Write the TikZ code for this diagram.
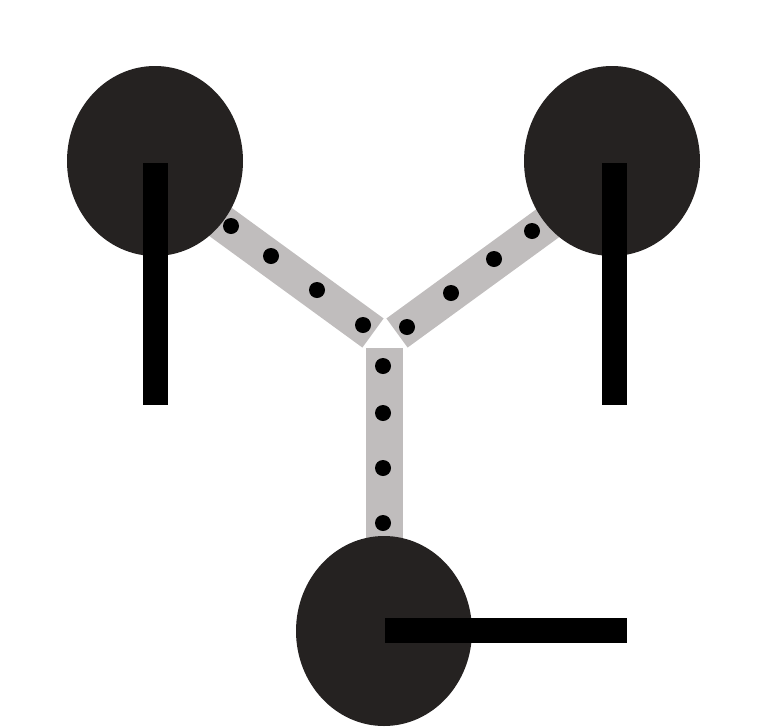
\documentclass[tikz,border=0pt]{standalone}
\usetikzlibrary{shapes.geometric}
\definecolor{stripgray}{RGB}{192,189,189}
\definecolor{discdark}{RGB}{37,34,33}
\tikzset{
  strip/.style={draw=stripgray, line width=36pt, line cap=butt},
  disc/.style={ellipse, fill=discdark, minimum width=176pt, minimum height=190pt, inner sep=0pt},
  bar/.style={draw=black, line width=25pt, line cap=butt},
  bead/.style={circle, fill=black, minimum size=16pt, inner sep=0pt}
}
\begin{document}
\begin{tikzpicture}[x=1pt,y=-1pt]
\useasboundingbox (0,0) rectangle (768,726);
% strip end coordinates
\coordinate (jl) at (373,333);
\coordinate (sl) at (211,215);
\coordinate (jr) at (397,333);
\coordinate (sr) at (559,215);
\coordinate (jb) at (384.5,348);
\coordinate (sb) at (384.5,600);
% strips
\draw[strip] (jl) -- (sl);
\draw[strip] (jr) -- (sr);
\draw[strip, line width=37pt] (jb) -- (sb);
% discs
\node[disc] (c1) at (155,161) {};
\node[disc] (c2) at (612,161) {};
\node[disc] (c3) at (384,631) {};
% bars
\coordinate (b1) at (155,405);
\coordinate (b2) at (614,405);
\coordinate (b3) at (627,630);
\draw[bar] (155,163) -- (b1);
\draw[bar] (614,163) -- (b2);
\draw[bar] (385,630) -- (b3);
% beads
\node[bead] (l1) at (231,226) {};
\node[bead] (l2) at (271,256) {};
\node[bead] (l3) at (317,290) {};
\node[bead] (l4) at (363,325) {};
\node[bead] (r1) at (532,231) {};
\node[bead] (r2) at (494,259) {};
\node[bead] (r3) at (451,293) {};
\node[bead] (r4) at (407,327) {};
\node[bead] (v1) at (383,366) {};
\node[bead] (v2) at (383,413) {};
\node[bead] (v3) at (383,468) {};
\node[bead] (v4) at (383,523) {};
\end{tikzpicture}
\end{document}
